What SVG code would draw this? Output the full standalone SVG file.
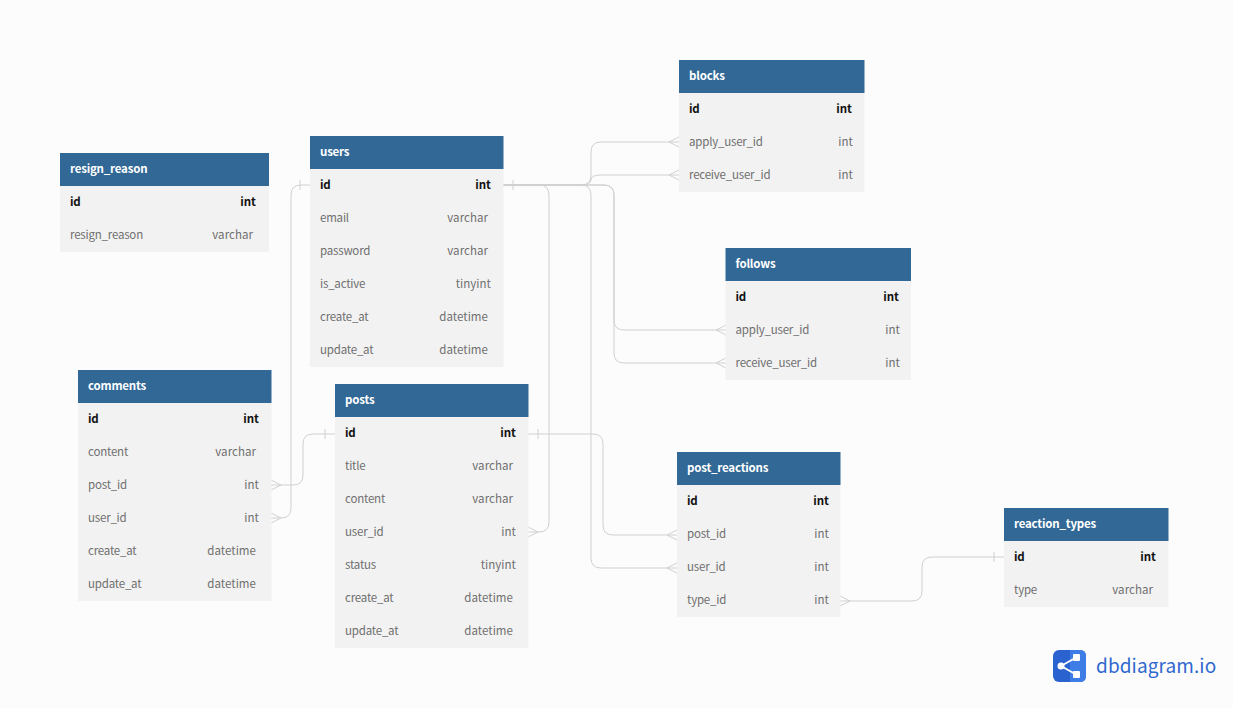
<svg xmlns="http://www.w3.org/2000/svg" xmlns:xlink="http://www.w3.org/1999/xlink" width="1233" height="708" viewBox="0 0 1233 708">
<style>
text{font-family:"Noto Sans CJK KR","Noto Sans",sans-serif;font-size:11.5px;letter-spacing:-.2px;transform:translateY(1px)}
.h{fill:#316896}.b{fill:#f2f2f2}
.t{fill:#fff;font-weight:700}
.k{fill:#111;font-weight:700}
.f{fill:#6f6f6f}
.e{text-anchor:end;letter-spacing:.05px}
.c{fill:none;stroke:#d0d0d0;stroke-width:1}
</style>
<defs>
<path id="many" class="c" d="M0,-5 L-10,0 L0,5"/>
<path id="manyR" class="c" d="M0,-5 L10,0 L0,5"/>
<path id="one" class="c" d="M0,-5 V5"/>
</defs>
<rect width="1233" height="708" fill="#fcfcfc"/>
<g id="connectors">
<path class="c" d="M503,185H581Q591,185 591,175V152Q591,142 601,142H679"/>
<path class="c" d="M503,185H581Q591,185 591,180T601,175H679"/>
<path class="c" d="M503,185H604Q614,185 614,195V320Q614,330 624,330H726"/>
<path class="c" d="M503,185H604Q614,185 614,195V353Q614,363 624,363H726"/>
<path class="c" d="M503,185H581Q591,185 591,195V558Q591,568 601,568H677"/>
<path class="c" d="M503,185H539Q549,185 549,195V522Q549,532 539,532H528"/>
<path class="c" d="M271,518H281Q291,518 291,508V195Q291,185 301,185H310"/>
<path class="c" d="M271,485H293Q303,485 303,475V444Q303,434 313,434H335"/>
<path class="c" d="M528,434H593Q603,434 603,444V525Q603,535 613,535H677"/>
<path class="c" d="M840,601H912Q922,601 922,591V567Q922,557 932,557H1004"/>
<use xlink:href="#one" x="513" y="185"/>
<use xlink:href="#one" x="300" y="185"/>
<use xlink:href="#one" x="325" y="434"/>
<use xlink:href="#one" x="538" y="434"/>
<use xlink:href="#one" x="994" y="557"/>
<use xlink:href="#many" x="679" y="142"/>
<use xlink:href="#many" x="679" y="175"/>
<use xlink:href="#many" x="726" y="330"/>
<use xlink:href="#many" x="726" y="363"/>
<use xlink:href="#many" x="677" y="535"/>
<use xlink:href="#many" x="677" y="568"/>
<use xlink:href="#manyR" x="271" y="485"/>
<use xlink:href="#manyR" x="271" y="518"/>
<use xlink:href="#manyR" x="528" y="532"/>
<use xlink:href="#manyR" x="840" y="601"/>
</g>
<g id="resign_reason">
<rect class="b" x="60" y="186" width="209" height="66"/><rect class="h" x="60" y="153" width="209" height="33"/>
<text class="t" x="70" y="172">resign_reason</text>
<text class="k" x="70" y="205">id</text><text class="k e" x="256" y="205">int</text>
<text class="f" x="70" y="238">resign_reason</text><text class="f e" x="253" y="238">varchar</text>
</g>
<g id="users">
<rect class="b" x="310" y="169" width="193.5" height="198"/><rect class="h" x="310" y="136" width="193.5" height="33"/>
<text class="t" x="320" y="155">users</text>
<text class="k" x="320" y="188">id</text><text class="k e" x="491" y="188">int</text>
<text class="f" x="320" y="221">email</text><text class="f e" x="488" y="221">varchar</text>
<text class="f" x="320" y="254">password</text><text class="f e" x="488" y="254">varchar</text>
<text class="f" x="320" y="287">is_active</text><text class="f e" x="491" y="287">tinyint</text>
<text class="f" x="320" y="320">create_at</text><text class="f e" x="488" y="320">datetime</text>
<text class="f" x="320" y="353">update_at</text><text class="f e" x="488" y="353">datetime</text>
</g>
<g id="comments">
<rect class="b" x="78" y="403" width="193.5" height="198"/><rect class="h" x="78" y="370" width="193.5" height="33"/>
<text class="t" x="88" y="389">comments</text>
<text class="k" x="88" y="422">id</text><text class="k e" x="259" y="422">int</text>
<text class="f" x="88" y="455">content</text><text class="f e" x="256" y="455">varchar</text>
<text class="f" x="88" y="488">post_id</text><text class="f e" x="259" y="488">int</text>
<text class="f" x="88" y="521">user_id</text><text class="f e" x="259" y="521">int</text>
<text class="f" x="88" y="554">create_at</text><text class="f e" x="256" y="554">datetime</text>
<text class="f" x="88" y="587">update_at</text><text class="f e" x="256" y="587">datetime</text>
</g>
<g id="posts">
<rect class="b" x="335" y="417" width="193.5" height="231"/><rect class="h" x="335" y="384" width="193.5" height="33"/>
<text class="t" x="345" y="403">posts</text>
<text class="k" x="345" y="436">id</text><text class="k e" x="516" y="436">int</text>
<text class="f" x="345" y="469">title</text><text class="f e" x="513" y="469">varchar</text>
<text class="f" x="345" y="502">content</text><text class="f e" x="513" y="502">varchar</text>
<text class="f" x="345" y="535">user_id</text><text class="f e" x="516" y="535">int</text>
<text class="f" x="345" y="568">status</text><text class="f e" x="516" y="568">tinyint</text>
<text class="f" x="345" y="601">create_at</text><text class="f e" x="513" y="601">datetime</text>
<text class="f" x="345" y="634">update_at</text><text class="f e" x="513" y="634">datetime</text>
</g>
<g id="blocks">
<rect class="b" x="679" y="93" width="185.5" height="99"/><rect class="h" x="679" y="60" width="185.5" height="33"/>
<text class="t" x="689" y="79">blocks</text>
<text class="k" x="689" y="112">id</text><text class="k e" x="852" y="112">int</text>
<text class="f" x="689" y="145">apply_user_id</text><text class="f e" x="853" y="145">int</text>
<text class="f" x="689" y="178">receive_user_id</text><text class="f e" x="853" y="178">int</text>
</g>
<g id="follows">
<rect class="b" x="725.5" y="281" width="185.5" height="99"/><rect class="h" x="725.5" y="248" width="185.5" height="33"/>
<text class="t" x="735.5" y="267">follows</text>
<text class="k" x="735.5" y="300">id</text><text class="k e" x="899" y="300">int</text>
<text class="f" x="735.5" y="333">apply_user_id</text><text class="f e" x="900" y="333">int</text>
<text class="f" x="735.5" y="366">receive_user_id</text><text class="f e" x="900" y="366">int</text>
</g>
<g id="post_reactions">
<rect class="b" x="677" y="485" width="163.5" height="132"/><rect class="h" x="677" y="452" width="163.5" height="33"/>
<text class="t" x="687" y="471">post_reactions</text>
<text class="k" x="687" y="504">id</text><text class="k e" x="829" y="504">int</text>
<text class="f" x="687" y="537">post_id</text><text class="f e" x="829" y="537">int</text>
<text class="f" x="687" y="570">user_id</text><text class="f e" x="829" y="570">int</text>
<text class="f" x="687" y="603">type_id</text><text class="f e" x="829" y="603">int</text>
</g>
<g id="reaction_types">
<rect class="b" x="1004" y="541" width="164.5" height="66"/><rect class="h" x="1004" y="508" width="164.5" height="33"/>
<text class="t" x="1014" y="527">reaction_types</text>
<text class="k" x="1014" y="560">id</text><text class="k e" x="1156" y="560">int</text>
<text class="f" x="1014" y="593">type</text><text class="f e" x="1153" y="593">varchar</text>
</g>
<g id="logo">
<rect x="1053" y="650" width="33" height="32" rx="6" fill="#2a62cf"/>
<path d="M1070,650H1080Q1086,650 1086,656V676Q1086,682 1080,682H1070Z" fill="#3f7de6"/>
<path d="M1061,666L1077,657M1061,666L1077,675" stroke="#fff" stroke-width="2" fill="none"/>
<circle cx="1061" cy="666" r="3.5" fill="#fff"/>
<rect x="1073" y="654" width="7" height="7" rx="1" fill="#fff"/>
<rect x="1073" y="671" width="7" height="7" rx="1" fill="#fff"/>
<text x="1096" y="672" style="font-size:19px;fill:#2f68cf;font-weight:400;letter-spacing:.1px">dbdiagram.io</text>
</g>
</svg>
